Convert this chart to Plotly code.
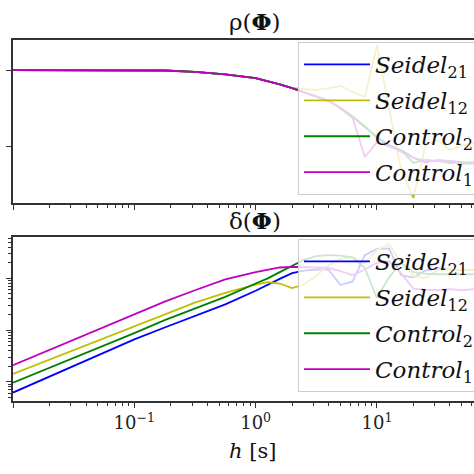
import plotly.graph_objects as go

# step sizes h [s]
h = [0.01, 0.0178, 0.0316, 0.0562, 0.1, 0.178, 0.316, 0.562, 1.0, 1.26, 1.58, 2.0,
     2.51, 3.16, 3.98, 5.01, 6.31, 7.94, 10.0, 12.6, 15.8, 20.0, 25.1, 31.6, 39.8,
     50.1, 63.1, 79.4, 100.0]

# spectral radius rho(Phi)
rho_seidel21 = [1.0, 1.0, 1.0, 1.0, 0.999, 0.997, 0.988, 0.972, 0.948, 0.929, 0.906, 0.883,
                0.857, 0.83, 0.80, 0.753, 0.695, 0.63, 0.565, 0.513, 0.48, 0.43, 0.40,
                0.415, 0.41, 0.40, 0.40, 0.395, 0.395]
rho_seidel12 = [1.0, 1.0, 1.0, 1.0, 0.999, 0.997, 0.988, 0.972, 0.948, 0.929, 0.906, 0.883,
                0.877, 0.87, 0.883, 0.896, 0.857, 0.825, 1.16, 0.74, 0.35, 0.17, 0.51,
                0.545, 0.48, 0.51, 0.525, 0.52, 0.52]
rho_control21 = [1.0, 1.0, 1.0, 1.0, 0.999, 0.997, 0.988, 0.972, 0.948, 0.929, 0.906, 0.883,
                 0.857, 0.83, 0.80, 0.755, 0.70, 0.635, 0.558, 0.506, 0.48, 0.396, 0.416,
                 0.41, 0.396, 0.40, 0.40, 0.40, 0.40]
rho_control12 = [1.0, 1.0, 1.0, 1.0, 0.999, 0.997, 0.988, 0.972, 0.948, 0.929, 0.906, 0.883,
                 0.857, 0.83, 0.80, 0.75, 0.688, 0.435, 0.53, 0.506, 0.467, 0.43, 0.41,
                 0.41, 0.41, 0.39, 0.39, 0.395, 0.395]

# delta(Phi)
delta_seidel21 = [0.00617, 0.0112, 0.0207, 0.0376, 0.0661, 0.112, 0.188, 0.313, 0.575, 0.759,
                  0.977, 1.259, 1.413, 1.479, 1.479, 0.741, 0.871, 2.82, 3.72, 3.80, 1.148,
                  1.047, 1.413, 1.585, 1.479, 1.445, 1.445, 1.445, 1.445]
delta_seidel12 = [0.0141, 0.024, 0.0407, 0.0708, 0.120, 0.204, 0.339, 0.525, 0.759, 0.841,
                  0.794, 0.646, 0.759, 1.122, 1.778, 2.40, 2.57, 2.0, 3.55, 4.57, 2.0,
                  1.12, 1.0, 1.445, 1.479, 1.445, 1.445, 1.445, 1.445]
delta_control21 = [0.00955, 0.0166, 0.0282, 0.049, 0.0871, 0.155, 0.263, 0.437, 0.794, 1.0,
                   1.318, 1.778, 2.29, 2.69, 2.82, 2.75, 2.51, 1.585, 0.417, 1.047, 2.0,
                   1.318, 1.23, 1.20, 1.20, 1.20, 1.20, 1.20, 1.20]
delta_control12 = [0.0209, 0.0367, 0.0646, 0.1135, 0.1995, 0.355, 0.589, 0.955, 1.318, 1.479,
                   1.622, 1.66, 1.66, 1.62, 1.585, 1.38, 1.15, 1.48, 2.0, 2.14, 1.26,
                   0.631, 0.603, 0.589, 0.617, 0.589, 0.617, 0.617, 0.617]

names = ["<i>Seidel</i><sub>21</sub>", "<i>Seidel</i><sub>12</sub>",
         "<i>Control</i><sub>21</sub>", "<i>Control</i><sub>12</sub>"]
colors = ["#0000ff", "#bfbf00", "#008000", "#bf00bf"]
rho_series = [rho_seidel21, rho_seidel12, rho_control21, rho_control12]
delta_series = [delta_seidel21, delta_seidel12, delta_control21, delta_control12]

x_tickvals = [0.01, 0.1, 1, 10, 100]
x_ticktext = ["10<sup>−2</sup>", "10<sup>−1</sup>", "10<sup>0</sup>", "10<sup>1</sup>",
              "10<sup>2</sup>"]
y2_tickvals = [0.01, 0.1, 1]
y2_ticktext = ["10<sup>−2</sup>", "10<sup>−1</sup>", "10<sup>0</sup>"]

FONT = "DejaVu Serif"
fig = go.Figure()
for i, (n, c, r) in enumerate(zip(names, colors, rho_series)):
    fig.add_trace(go.Scatter(x=h, y=r, mode="lines", name=n, line=dict(color=c, width=1.8),
                             xaxis="x", yaxis="y", legend="legend", legendgroup=f"a{i}"))
for i, (n, c, d) in enumerate(zip(names, colors, delta_series)):
    fig.add_trace(go.Scatter(x=h, y=d, mode="lines", name=n, line=dict(color=c, width=1.8),
                             xaxis="x2", yaxis="y2", legend="legend2", legendgroup=f"b{i}"))

axcol = "#333333"
common_x = dict(type="log", range=[-2, 1.8], showgrid=False, zeroline=False,
                showline=True, linecolor=axcol, linewidth=1.5, mirror=True,
                ticks="outside", ticklen=5, tickwidth=1.2, tickcolor=axcol,
                tickvals=x_tickvals, ticktext=x_ticktext,
                minor=dict(ticks="outside", ticklen=3, tickwidth=1, tickcolor=axcol, dtick="D1"),
                tickfont=dict(family=FONT, size=18, color="#222"))

leg = dict(bgcolor="rgba(255,255,255,0.8)", bordercolor="#cccccc", borderwidth=1,
           font=dict(family=FONT, size=23, color="#111"), xanchor="left", yanchor="top",
           xref="paper", yref="paper", tracegroupgap=3, itemwidth=66)

fig.update_layout(
    width=474, height=474,
    margin=dict(l=13, r=0, t=0, b=0, autoexpand=False),
    plot_bgcolor="white", paper_bgcolor="white",
    xaxis=dict(common_x, anchor="y", showticklabels=False, domain=[0, 1]),
    xaxis2=dict(common_x, anchor="y2", domain=[0, 1], matches="x"),
    yaxis=dict(domain=[0.5717, 0.9156], range=[0.136, 1.195], showgrid=False, zeroline=False,
               showline=True, linecolor=axcol, linewidth=1.5,
               ticks="outside", ticklen=5, tickwidth=1.2, tickcolor=axcol,
               tickvals=[0.5, 1.0], ticktext=["0.5", "1.0"], ticklabelstandoff=6,
               tickfont=dict(family=FONT, size=18, color="#222"), automargin=False),
    yaxis2=dict(type="log", domain=[0.154, 0.5], range=[-2.373, 0.80], showgrid=False,
                zeroline=False, showline=True, linecolor=axcol, linewidth=1.5,
                ticks="outside", ticklen=5, tickwidth=1.2, tickcolor=axcol,
                tickvals=y2_tickvals, ticktext=y2_ticktext, ticklabelstandoff=6,
                minor=dict(ticks="outside", ticklen=3, tickwidth=1, tickcolor=axcol, dtick="D1"),
                tickfont=dict(family=FONT, size=18, color="#222"), automargin=False),
    legend=dict(leg, x=(298 - 13) / 461, y=1 - 42 / 474),
    legend2=dict(leg, x=(298 - 13) / 461, y=1 - 239 / 474),
    annotations=[
        dict(text="ρ(<b>Φ</b>)", x=(255 - 13) / 461, y=1 - 22 / 474, xref="paper", yref="paper",
             showarrow=False, font=dict(family=FONT, size=23, color="#111"),
             xanchor="center", yanchor="middle"),
        dict(text="δ(<b>Φ</b>)", x=(255 - 13) / 461, y=1 - 220 / 474, xref="paper", yref="paper",
             showarrow=False, font=dict(family=FONT, size=23, color="#111"),
             xanchor="center", yanchor="middle"),
        dict(text="<i>h</i> [s]", x=(253 - 13) / 461, y=1 - 451 / 474, xref="paper", yref="paper",
             showarrow=False, font=dict(family=FONT, size=21, color="#111"),
             xanchor="center", yanchor="middle"),
    ],
)
fig.write_html("out.html")
